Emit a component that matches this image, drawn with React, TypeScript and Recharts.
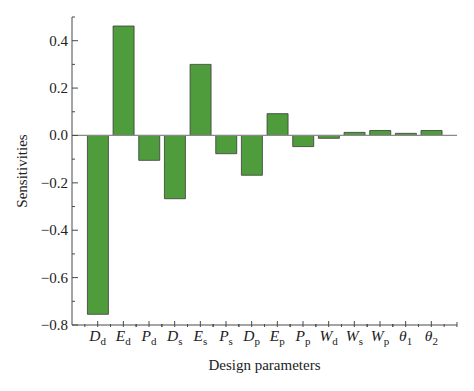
import { Bar, BarChart, ReferenceLine, XAxis, YAxis } from "recharts";

// parameter symbols: italic letter + upright subscript
const letters = ["D", "E", "P", "D", "E", "P", "D", "E", "P", "W", "W", "W", "θ", "θ"];
const subs = ["d", "d", "d", "s", "s", "s", "p", "p", "p", "d", "s", "p", "1", "2"];
const sensitivities = [-0.755, 0.462, -0.105, -0.267, 0.3, -0.077, -0.168, 0.092, -0.047, -0.012, 0.013, 0.021, 0.009, 0.021];
const yTicks = [-0.8, -0.7, -0.6, -0.5, -0.4, -0.3, -0.2, -0.1, 0, 0.1, 0.2, 0.3, 0.4, 0.5];

const data = sensitivities.map((v, i) => ({ key: `${letters[i]}${subs[i]}${i}`, idx: i, value: v }));

const W = 474;
const H = 391;
const M = { top: 17, right: 17, bottom: 0, left: 0 };
const Y_W = 72;
const X_H = 66;
const PAD = 12.85;
const plotW = W - M.left - M.right - Y_W;
const band = (plotW - 2 * PAD) / data.length;

const font = "'Liberation Serif', 'Times New Roman', serif";
const axisColor = "#4a4a4a";

function XTick(props: any) {
  const { x, y, payload, index } = props;
  const i = payload.index ?? index;
  const last = i === data.length - 1;
  return (
    <g>
      <line x1={x} x2={x} y1={y} y2={y - 6} stroke={axisColor} />
      <line x1={x - band / 2} x2={x - band / 2} y1={y} y2={y - 3} stroke={axisColor} />
      <line x1={x + band / 2} x2={x + band / 2} y1={y} y2={y - 3} stroke={axisColor} />
      {last && <line x1={x + band} x2={x + band} y1={y} y2={y - 5} stroke={axisColor} />}
      <text x={x} y={y + 14} textAnchor="middle" fontFamily={font} fontSize={15.5} fill="#222">
        <tspan fontStyle="italic">{letters[i]}</tspan>
        <tspan fontSize={11} dy={3.5}>{subs[i]}</tspan>
      </text>
    </g>
  );
}

function YTick(props: any) {
  const { x, y, payload } = props;
  const v = Number(payload.value);
  const major = Math.round(v * 10) % 2 === 0;
  const ax = x + 4;
  return (
    <g>
      <line x1={ax} x2={ax + (major ? 6 : 3)} y1={y} y2={y} stroke={axisColor} />
      {major && (
        <text x={x} y={y} dy={5} textAnchor="end" fontFamily={font} fontSize={15} fill="#222">
          {v.toFixed(1).replace("-", "−")}
        </text>
      )}
    </g>
  );
}

export default function App() {
  return (
    <div style={{ position: "absolute", left: 0, top: 0, width: W, height: H, background: "#fff" }}>
      <BarChart width={W} height={H} data={data} margin={M} barCategoryGap="10%">
        <XAxis
          dataKey="key"
          height={X_H}
          interval={0}
          padding={{ left: PAD, right: PAD }}
          tickSize={0}
          tickLine={false}
          axisLine={{ stroke: axisColor }}
          tick={<XTick />}
          label={{
            content: (p: any) => {
              const vb = p.viewBox;
              return (
                <text x={vb.x + vb.width / 2} y={vb.y + 45} textAnchor="middle" fontFamily={font} fontSize={15} fill="#222">
                  Design parameters
                </text>
              );
            },
          }}
        />
        <YAxis
          width={Y_W}
          domain={[-0.8, 0.5]}
          ticks={yTicks}
          interval={0}
          tickSize={0}
          tickMargin={4}
          tickLine={false}
          axisLine={{ stroke: axisColor }}
          tick={<YTick />}
          label={{
            content: (p: any) => {
              const vb = p.viewBox;
              const cx = vb.x + 27;
              const cy = vb.y + vb.height / 2;
              return (
                <text x={cx} y={cy} transform={`rotate(-90 ${cx} ${cy})`} textAnchor="middle" fontFamily={font} fontSize={15} fill="#222">
                  Sensitivities
                </text>
              );
            },
          }}
        />
        <ReferenceLine y={0} stroke="#8a8a8a" strokeWidth={1.2} />
        <Bar dataKey="value" fill="#4f9c3c" stroke="#3b3b3b" strokeWidth={0.8} isAnimationActive={false} />
      </BarChart>
    </div>
  );
}
